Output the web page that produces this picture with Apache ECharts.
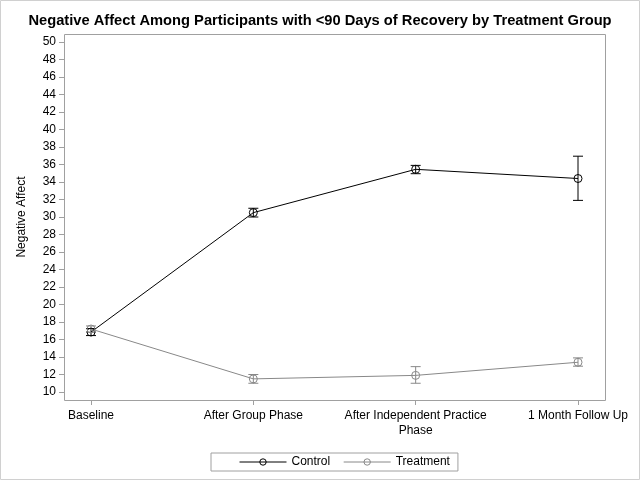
<!DOCTYPE html>
<html><head><meta charset="utf-8">
<script src="https://cdn.jsdelivr.net/npm/echarts@6/dist/echarts.min.js"></script>
<style>html,body{margin:0;padding:0;background:#fff}#c{width:640px;height:480px}</style>
</head><body><div id="c"></div>
<script>
const categories = ['Baseline', 'After Group Phase', 'After Independent Practice\nPhase', '1 Month Follow Up'];
const controlMean = [16.85, 30.5, 35.45, 34.4];
const controlLow = [16.45, 30.0, 34.95, 31.9];
const controlHigh = [17.25, 31.0, 35.9, 36.95];
const treatmentMean = [17.2, 11.5, 11.9, 13.4];
const treatmentLow = [16.85, 11.0, 11.0, 12.95];
const treatmentHigh = [17.55, 12.0, 12.9, 13.9];
const yTicks = {min: 10, max: 50, interval: 2};

const CTRL = '#000000', TRT = '#888888', FRAME = '#a0a0a0';
const FONT = '"Liberation Sans", Arial, sans-serif';

function errData(lo, hi) { return lo.map((l, i) => [i, l, hi[i]]); }
function errSeries(name, lo, hi, color) {
  return {
    type: 'custom', name: name, silent: true, z: 3,
    data: errData(lo, hi),
    renderItem: function (params, api) {
      const p1 = api.coord([api.value(0), api.value(1)]);
      const p2 = api.coord([api.value(0), api.value(2)]);
      const w = 5;
      const st = {stroke: color, lineWidth: 1};
      return {type: 'group', children: [
        {type: 'line', shape: {x1: p1[0], y1: p1[1], x2: p2[0], y2: p2[1]}, style: st},
        {type: 'line', shape: {x1: p1[0] - w, y1: p1[1], x2: p1[0] + w, y2: p1[1]}, style: st},
        {type: 'line', shape: {x1: p2[0] - w, y1: p2[1], x2: p2[0] + w, y2: p2[1]}, style: st}
      ]};
    }
  };
}

const chart = echarts.init(document.getElementById('c'));
chart.setOption({
  animation: false,
  textStyle: {fontFamily: FONT},
  title: {
    text: 'Negative Affect Among Participants with <90 Days of Recovery by Treatment Group',
    left: 'center', top: 8,
    textStyle: {fontFamily: FONT, fontSize: 14.7, fontWeight: 'bold', color: '#000'}
  },
  grid: {left: 91, right: 62, top: 42, bottom: 88, containLabel: false},
  xAxis: {
    type: 'category', data: categories, boundaryGap: false, offset: 8,
    axisLine: {show: false},
    axisTick: {show: true, length: 5, alignWithLabel: true, lineStyle: {color: FRAME}},
    axisLabel: {color: '#000', fontSize: 12, margin: 8, lineHeight: 15, interval: 0, fontFamily: FONT},
    splitLine: {show: false}
  },
  yAxis: {
    type: 'value', min: yTicks.min, max: yTicks.max, interval: yTicks.interval, offset: 27,
    name: 'Negative Affect', nameLocation: 'middle', nameGap: 36, nameRotate: 90,
    nameTextStyle: {color: '#000', fontSize: 12, fontFamily: FONT},
    axisLine: {show: false},
    axisTick: {show: true, length: 5, lineStyle: {color: FRAME}},
    axisLabel: {color: '#000', fontSize: 12, margin: 8, fontFamily: FONT},
    splitLine: {show: false}
  },
  legend: {
    bottom: 9, left: 211,
    data: ['Control', 'Treatment'],
    itemWidth: 47, itemHeight: 8, itemGap: 13,
    borderColor: FRAME, borderWidth: 1, padding: [3, 8, 3, 28],
    lineStyle: {width: 1},
    itemStyle: {borderWidth: 1},
    textStyle: {fontSize: 12, color: '#000', fontFamily: FONT}
  },
  graphic: [
    {type: 'rect', shape: {x: 0.5, y: 0.5, width: 639, height: 479}, style: {fill: 'none', stroke: '#d0d0d0', lineWidth: 1}, silent: true},
    {type: 'rect', shape: {x: 64.5, y: 34.5, width: 541, height: 366}, style: {fill: 'none', stroke: FRAME, lineWidth: 1}, silent: true}
  ],
  series: [
    {
      name: 'Control', type: 'line', data: controlMean, z: 4,
      symbol: 'circle', symbolSize: 8, showSymbol: true,
      lineStyle: {color: CTRL, width: 1},
      itemStyle: {color: 'rgba(255,255,255,0)', borderColor: CTRL, borderWidth: 1}
    },
    {
      name: 'Treatment', type: 'line', data: treatmentMean, z: 4,
      symbol: 'circle', symbolSize: 8, showSymbol: true,
      lineStyle: {color: TRT, width: 1},
      itemStyle: {color: 'rgba(255,255,255,0)', borderColor: TRT, borderWidth: 1}
    },
    errSeries('ControlErr', controlLow, controlHigh, CTRL),
    errSeries('TreatmentErr', treatmentLow, treatmentHigh, TRT)
  ]
});
</script></body></html>
